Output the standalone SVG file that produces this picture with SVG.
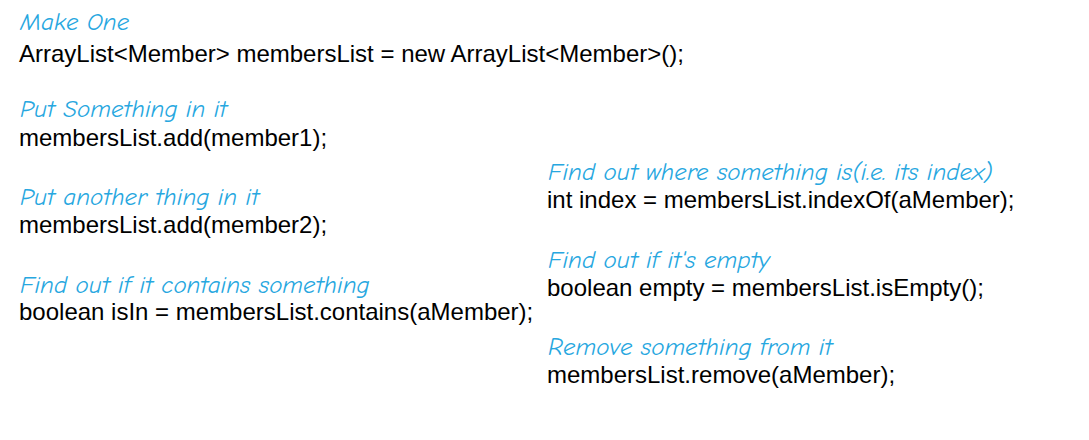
<svg xmlns="http://www.w3.org/2000/svg" width="1089" height="440" viewBox="0 0 1089 440">
<style>
.h{font-family:"Comic Neue","Liberation Sans",sans-serif;font-style:italic;font-size:25px;fill:#27a7df}
.c{font-family:"Liberation Sans",Arial,sans-serif;font-size:24px;fill:#000}
</style>
<rect width="1089" height="440" fill="#fff"/>
<g id="make"><text class="h" x="20" y="30">Make One</text><text class="c" x="19" y="62">ArrayList&lt;Member&gt; membersList = new ArrayList&lt;Member&gt;();</text></g>
<g id="put1"><text class="h" x="20" y="117">Put Something in it</text><text class="c" x="19" y="146">membersList.add(member1);</text></g>
<g id="put2"><text class="h" x="20" y="205">Put another thing in it</text><text class="c" x="19" y="233">membersList.add(member2);</text></g>
<g id="contains"><text class="h" x="20" y="293">Find out if it contains something</text><text class="c" x="19" y="320">boolean isIn = membersList.contains(aMember);</text></g>
<g id="index"><text class="h" x="548" y="180">Find out where something is(i.e. its index)</text><text class="c" x="547" y="208">int index = membersList.indexOf(aMember);</text></g>
<g id="empty"><text class="h" x="548" y="268">Find out if it's empty</text><text class="c" x="547" y="296">boolean empty = membersList.isEmpty();</text></g>
<g id="remove"><text class="h" x="548" y="355">Remove something from it</text><text class="c" x="547" y="383">membersList.remove(aMember);</text></g>
<g id="connectors"/>
</svg>
